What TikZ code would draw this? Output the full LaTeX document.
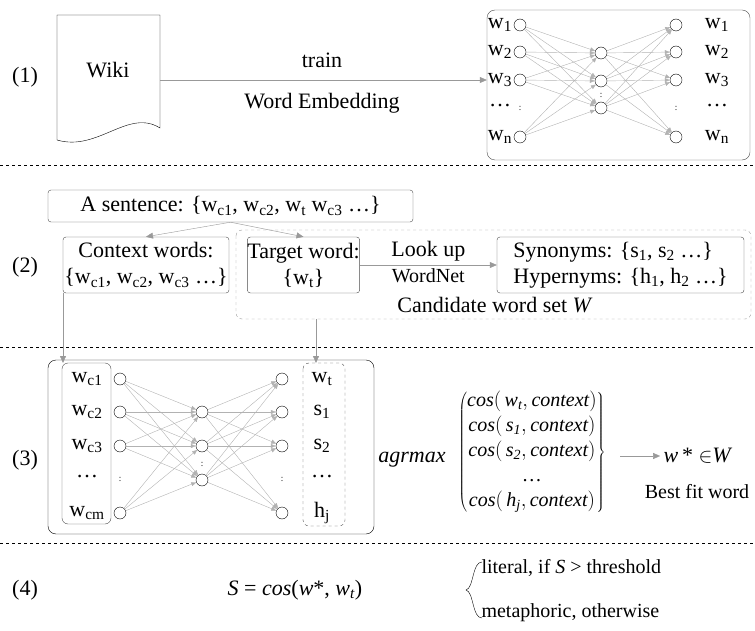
\documentclass[tikz,border=0pt]{standalone}
\usepackage{fontspec}
\setmainfont{Liberation Serif}
\usetikzlibrary{arrows.meta}
\newcommand{\sub}[1]{\textsubscript{#1}}
\begin{document}
\begin{tikzpicture}[x=1pt,y=-1pt,
  every node/.style={font=\fontsize{22}{26}\selectfont},
  neu/.style={circle,draw,inner sep=0pt,minimum size=12pt},
  edge/.style={draw=gray!60,-{Triangle[length=5pt,width=4pt]}},
  garrow/.style={draw=gray!80,-{Triangle[length=7pt,width=6pt]}},
  box/.style={draw=black!70,rounded corners=3pt},
  sep/.style={dashed,thick}]
\useasboundingbox (0,0) rectangle (755,631);
% separators
\foreach \y in {165,347,543} \draw[sep] (0,\y) -- (755,\y);
% ---------- (1)
\node at (25,77) {(1)};
\draw (57,15) -- (160,15) -- (160,128) .. controls (128,108) and (98,152) .. (57,140) -- cycle;
\node (wiki) at (108,70) {Wiki};
\coordinate (wikiR) at (160,80);
\node[draw=black!70,rounded corners=8pt,minimum width=263pt,minimum height=150pt,inner sep=0pt] (emb) at (618.5,85) {};
\draw[garrow] (wikiR) -- (wikiR -| emb.west);
\node at (322,60) {train};
\node at (322,103) {Word Embedding};
\foreach \i/\y/\t in {1/25/{w\sub{1}},2/52/{w\sub{2}},3/80/{w\sub{3}},4/137/{w\sub{n}}}{
  \node[neu] (a\i) at (520,\y) {};
  \node[neu] (c\i) at (676,\y) {};
  \node at (500,\y) {\t};
  \node at (717,\y) {\t};
}
\node at (500,106) {\dots}; \node at (717,106) {\dots};
\node[font=\small] at (520,108) {:}; \node[font=\small] at (676,108) {:};
\foreach \j/\y in {1/53,2/81,3/108} \node[neu] (b\j) at (601,\y) {};
\node[font=\small] at (601,95) {:};
\foreach \i in {1,...,4} \foreach \j in {1,2,3} {
  \draw[edge] (a\i) -- (b\j);
  \draw[edge] (b\j) -- (c\i);
}
% ---------- (2)
\node at (25,267) {(2)};
\node[box,minimum width=365pt,minimum height=32pt,inner sep=0pt] (sent) at (230.5,206) {A sentence: \{w\sub{c1}, w\sub{c2}, w\sub{t} w\sub{c3} \dots\}};
\node[box,minimum width=166pt,minimum height=56pt,align=center,inner sep=0pt] (ctx) at (146,265) {Context words:\\\{w\sub{c1}, w\sub{c2}, w\sub{c3} \dots\}};
\node[box,minimum width=111pt,minimum height=56pt,align=center,inner sep=0pt] (tgt) at (303.5,265) {Target word:\\\{w\sub{t}\}};
\node[box,minimum width=247pt,minimum height=56pt,align=left,inner sep=0pt] (syn) at (620.5,265) {Synonyms: \{s\sub{1}, s\sub{2} \dots\}\\Hypernyms: \{h\sub{1}, h\sub{2} \dots\}};
\draw[garrow] (sent.south) -- (ctx.north);
\draw[garrow] (sent.south) -- (tgt.north);
\draw[garrow] (tgt.east) -- node[above] {Look up} node[below,font=\fontsize{20}{24}\selectfont] {WordNet} (syn.west);
\draw[gray!80,dashed,rounded corners=6pt] (236,230) rectangle (751,319);
\node at (495,305) {Candidate word set \textit{W}};
\coordinate (candB) at (316,319);
% ---------- (3)
\node at (25,460) {(3)};
\draw[rounded corners=8pt] (48,360) rectangle (374,534);
\draw[black!70,rounded corners=6pt] (62,363) rectangle (111,524);
\draw[black!70,dashed,rounded corners=6pt] (303,363) rectangle (345,526);
\coordinate (ctxB) at (63,293);
\draw[garrow] (ctxB) -- (63,363);
\draw[garrow] (candB) -- (316,363);
\foreach \i/\y/\l/\r in {1/379/{w\sub{c1}}/{w\sub{t}},2/412/{w\sub{c2}}/{s\sub{1}},3/446/{w\sub{c3}}/{s\sub{2}},4/513/{w\sub{cm}}/{h\sub{j}}}{
  \node[neu] (p\i) at (120,\y) {};
  \node[neu] (r\i) at (282,\y) {};
  \node at (87,\y) {\l};
  \node at (322,\y) {\r};
}
\node at (87,477) {\dots}; \node at (322,477) {\dots};
\node[font=\small] at (120,479) {:}; \node[font=\small] at (282,479) {:};
\foreach \j/\y in {1/412,2/446,3/480} \node[neu] (q\j) at (202,\y) {};
\node[font=\small] at (202,464) {:};
\foreach \i in {1,...,4} \foreach \j in {1,2,3} {
  \draw[edge] (p\i) -- (q\j);
  \draw[edge] (q\j) -- (r\i);
}
\node at (412,460) {\textit{agrmax}};
\node[inner sep=0pt,font=\fontsize{20}{24}\selectfont] (cosm) at (532,452) {$\left(\begin{array}{@{}c@{}}
  \textit{cos}(\,\textit{w\sub{t}}, \textit{context})\\[1pt]
  \textit{cos}(\,\textit{s\sub{1}}, \textit{context})\\[1pt]
  \textit{cos}(\,\textit{s\sub{2}}, \textit{context})\\[1pt]
  \textrm{\dots}\\[1pt]
  \textit{cos}(\,\textit{h\sub{j}}, \textit{context})
  \end{array}\right\}$};
\node (best) at (698,456) {\textit{w}\,* $\in$\textit{W}};
\node[font=\fontsize{20}{24}\selectfont] at (697,492) {Best fit word};
\coordinate (cosE) at (620,456);
\draw[garrow] (cosE) -- (best.west);
% ---------- (4)
\node at (25,590) {(4)};
\node at (295,590) {\textit{S} = \textit{cos}(\textit{w}*, \textit{w\sub{t}})};
\draw (482,562) .. controls (472,562) and (474,588) .. (466,590) .. controls (474,592) and (472,618) .. (482,618);
\node[anchor=west,font=\fontsize{20}{24}\selectfont] at (478,568) {literal, if \textit{S} > threshold};
\node[anchor=west,font=\fontsize{20}{24}\selectfont] at (478,613) {metaphoric, otherwise};
\end{tikzpicture}
\end{document}
